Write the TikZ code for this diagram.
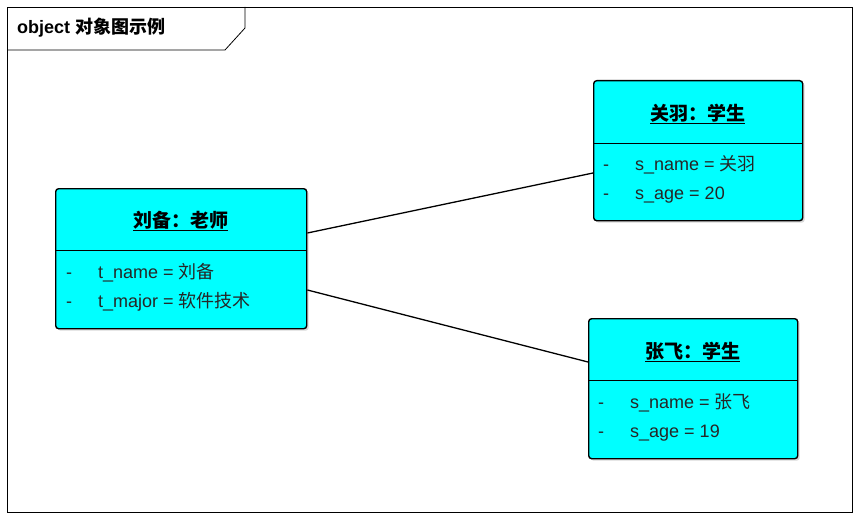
\documentclass[tikz,border=0pt]{standalone}
\usepackage{fontspec}
\setmainfont{Liberation Sans}
\newfontfamily\cjk{Noto Sans CJK SC}
\usetikzlibrary{calc}
\definecolor{objcyan}{RGB}{0,255,255}
\tikzset{
  objbox/.style={draw=black, line width=1.4pt, fill=objcyan, rounded corners=3pt, anchor=north west, inner sep=0pt,
    drop shadow={shadow xshift=2pt, shadow yshift=-2pt, fill=gray!60}},
  hdr/.style={font=\fontsize{19}{22}\selectfont\bfseries, anchor=center, inner sep=0pt},
  attr/.style={font=\fontsize{18}{21}\selectfont, anchor=west, inner sep=0pt, text=black!85},
  link/.style={line width=1.3pt}
}
\usetikzlibrary{shadows}
\begin{document}
\begin{tikzpicture}[x=1pt,y=-1pt]
\useasboundingbox (0,0) rectangle (860,519);
\draw[line width=0.8pt] (7,7) rectangle (852,512);
\draw[line width=0.8pt] (7,50) -- (225,50) -- (245,28) -- (245,7);
\node[anchor=west, font=\fontsize{18}{21}\selectfont\bfseries, inner sep=0pt] (title) at (17,28) {object {\cjk 对象图示例}};

% Liu Bei
\node[objbox, minimum width=251pt, minimum height=140pt] (liu) at (55,188) {};
\draw[line width=1pt] (55,250) -- (306,250);
\node[hdr] (liuh) at (180.5,221) {\underline{\cjk 刘备：老师}};
\node[attr] (liua) at (66,273) {-\hspace{26pt}t\_name = {\cjk 刘备}};
\node[attr] (liub) at (66,302) {-\hspace{26pt}t\_major = {\cjk 软件技术}};

% Guan Yu
\node[objbox, minimum width=209pt, minimum height=140pt] (guan) at (593,80) {};
\draw[line width=1pt] (593,143) -- (802,143);
\node[hdr] (guanh) at (697.5,114) {\underline{\cjk 关羽：学生}};
\node[attr] (guana) at (603,165) {-\hspace{26pt}s\_name = {\cjk 关羽}};
\node[attr] (guanb) at (603,195) {-\hspace{26pt}s\_age = 20};

% Zhang Fei
\node[objbox, minimum width=209pt, minimum height=140pt] (zhang) at (588,318) {};
\draw[line width=1pt] (588,380) -- (797,380);
\node[hdr] (zhangh) at (692.5,352) {\underline{\cjk 张飞：学生}};
\node[attr] (zhanga) at (598,403) {-\hspace{26pt}s\_name = {\cjk 张飞}};
\node[attr] (zhangb) at (598,433) {-\hspace{26pt}s\_age = 19};

\draw[link] ($(liu.north east)+(0,45)$) -- ($(guan.north west)+(0,93)$);
\draw[link] ($(liu.north east)+(0,102)$) -- ($(zhang.north west)+(0,44)$);
\end{tikzpicture}
\end{document}
